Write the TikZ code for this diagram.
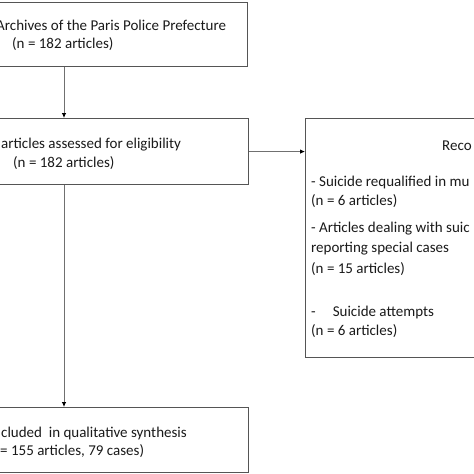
\documentclass[tikz,border=0pt]{standalone}
\usepackage{fontspec}
\setmainfont{Carlito}
\usepackage{tikz}
\usetikzlibrary{arrows.meta}
\definecolor{fcline}{HTML}{555555}
\definecolor{fcarrow}{HTML}{707070}
\definecolor{fctext}{HTML}{1A1A1A}

\begin{document}
\begin{tikzpicture}[x=1pt, y=-1pt,
  font=\fontsize{15}{18}\selectfont\color{fctext},
  box/.style={draw=fcline, line width=1.2pt, fill=white, inner sep=0pt},
  row/.style={anchor=base west, inner sep=0pt},
  flow/.style={draw=fcarrow, line width=0.8pt, -{Latex[length=5pt, width=4.5pt, color=black]}}]
  \useasboundingbox (0,0) rectangle (474,474);
  \clip (0,0) rectangle (474,474);
  % boxes
  \node[box, minimum width=260pt, minimum height=64pt, anchor=north east] (arch) at (248,2) {};
  \node[box, minimum width=262pt, minimum height=66pt, anchor=north east] (elig) at (249,118) {};
  \node[box, minimum width=200pt, minimum height=239pt, anchor=north west] (excl) at (305,118) {};
  \node[box, minimum width=262pt, minimum height=65pt, anchor=north east] (incl) at (249,407) {};
  % texts
  \node[row] (arch1) at (-4,30) {Archives of the Paris Police Prefecture};
  \node[row] (arch2) at (12,48) {(n = 182 articles)};
  \node[row] (elig1) at (1,148) {articles assessed for eligibility};
  \node[row] (elig2) at (13,167) {(n = 182 articles)};
  \node[row] (excl0) at (442,150) {Reco};
  \foreach \n/\y/\t in {1/186/{- Suicide requalified in mu}, 2/205/{(n = 6 articles)},
                        3/232/{- Articles dealing with suic}, 4/252/{reporting special cases},
                        5/273/{(n = 15 articles)}, 6/316/{-\hspace{17pt}Suicide attempts},
                        7/335/{(n = 6 articles)}}
    \node[row] (excl\n) at (311,\y) {\t};
  \node[row] (incl1) at (1,437) {cluded\ \ in qualitative synthesis};
  \node[row] (incl2) at (0,455) {= 155 articles, 79 cases)};
  % arrows
  \coordinate (spine) at (64,0);
  \draw[flow] (arch.south -| spine) -- (elig.north -| spine);
  \draw[flow] (elig.south -| spine) -- (incl.north -| spine);
  \draw[flow] (elig.east) -- (excl.west |- elig.east);
\end{tikzpicture}
\end{document}
